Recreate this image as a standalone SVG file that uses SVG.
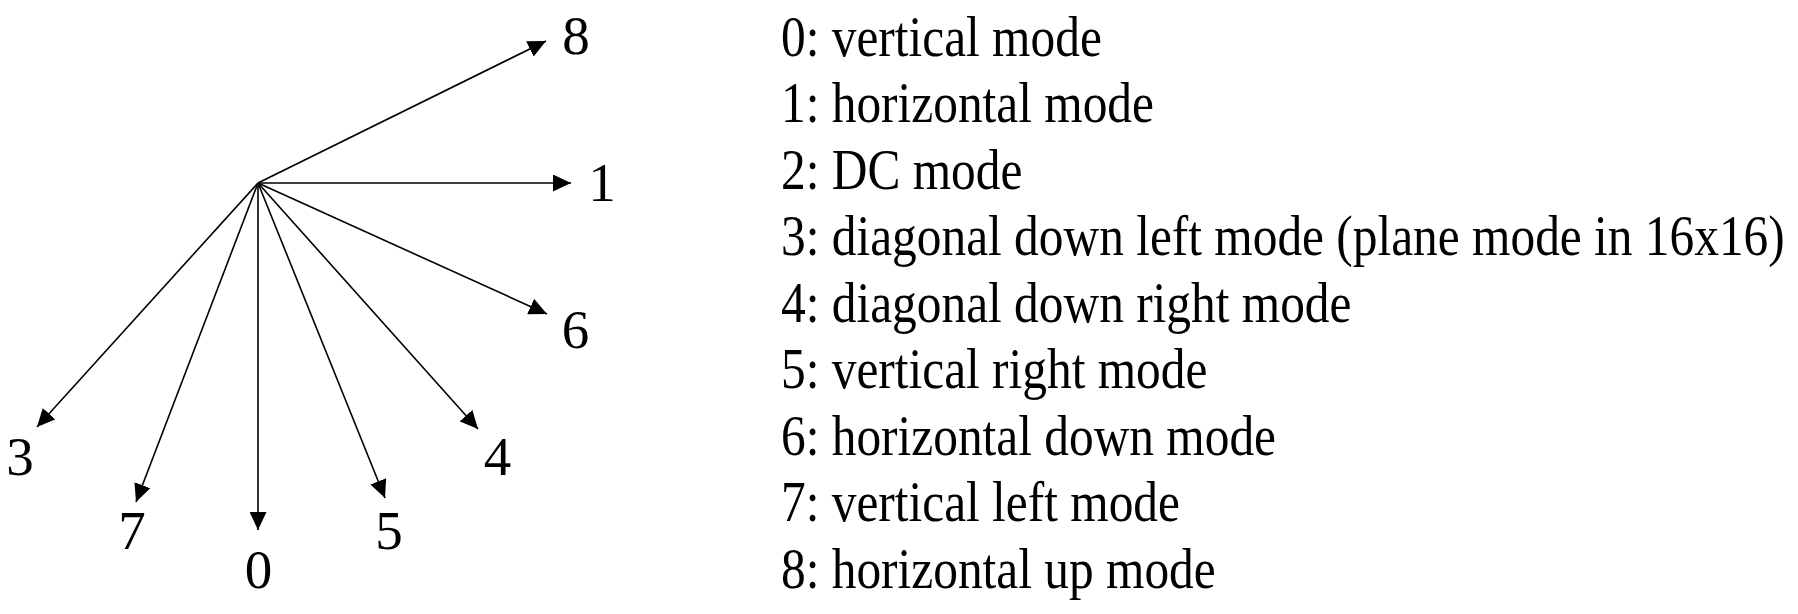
<svg xmlns="http://www.w3.org/2000/svg" width="1798" height="614" viewBox="0 0 1798 614">
<style>
text{font-family:"Liberation Serif","Times New Roman",serif;fill:#000}
.lbl{font-size:55px;text-anchor:middle}
.leg{font-size:56px}
.ar{stroke:#000;stroke-width:1.6;fill:none;marker-end:url(#ah)}
</style>
<defs>
<marker id="ah" markerUnits="userSpaceOnUse" markerWidth="19" markerHeight="17" refX="18" refY="8.5" orient="auto" viewBox="0 0 19 17">
<path d="M0,0 L18,8.5 L0,17 z" fill="#000"/>
</marker>
</defs>
<rect width="1798" height="614" fill="#fff"/>
<g id="connectors">
<line class="ar" x1="258" y1="183" x2="546" y2="41"/>
<line class="ar" x1="258" y1="183" x2="571" y2="183"/>
<line class="ar" x1="258" y1="183" x2="547" y2="314"/>
<line class="ar" x1="258" y1="183" x2="478" y2="429"/>
<line class="ar" x1="258" y1="183" x2="385" y2="498"/>
<line class="ar" x1="258" y1="183" x2="258" y2="530"/>
<line class="ar" x1="258" y1="183" x2="136" y2="502"/>
<line class="ar" x1="258" y1="183" x2="37" y2="427"/>
</g>
<g id="label-8"><text class="lbl" x="576" y="54">8</text></g>
<g id="label-1"><text class="lbl" x="602" y="201">1</text></g>
<g id="label-6"><text class="lbl" x="575.5" y="348">6</text></g>
<g id="label-4"><text class="lbl" x="497.5" y="475">4</text></g>
<g id="label-5"><text class="lbl" x="389" y="549">5</text></g>
<g id="label-0"><text class="lbl" x="258.5" y="588">0</text></g>
<g id="label-7"><text class="lbl" x="132" y="549">7</text></g>
<g id="label-3"><text class="lbl" x="20" y="475">3</text></g>
<g id="legend" transform="translate(781,0) scale(0.882,1)">
<text class="leg" x="0" y="56">0: vertical mode</text>
<text class="leg" x="0" y="122.5">1: horizontal mode</text>
<text class="leg" x="0" y="189">2: DC mode</text>
<text class="leg" x="0" y="255.5">3: diagonal down left mode (plane mode in 16x16)</text>
<text class="leg" x="0" y="322">4: diagonal down right mode</text>
<text class="leg" x="0" y="388.5">5: vertical right mode</text>
<text class="leg" x="0" y="455">6: horizontal down mode</text>
<text class="leg" x="0" y="521.5">7: vertical left mode</text>
<text class="leg" x="0" y="588">8: horizontal up mode</text>
</g>
</svg>
